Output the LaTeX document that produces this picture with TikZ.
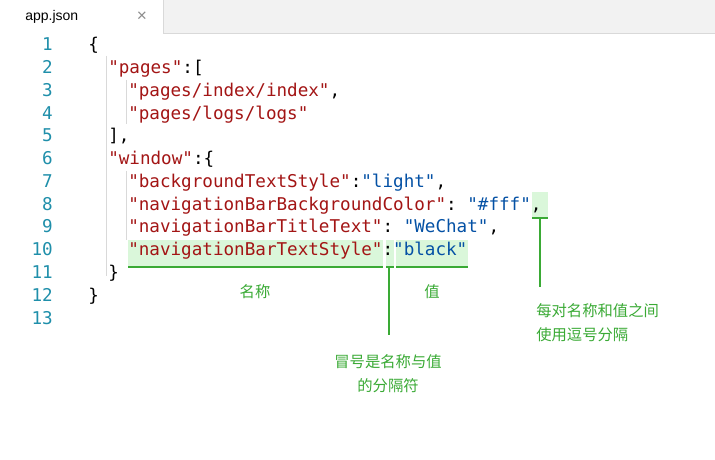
\documentclass[tikz,border=0pt]{standalone}
\usepackage{fontspec}
\setmainfont{Liberation Sans}
\setmonofont{DejaVu Sans Mono}
\newfontfamily\cjk{Noto Sans CJK SC}
\begin{document}
\begin{tikzpicture}[x=0.75pt,y=-0.75pt,
  code/.style={anchor=base west,inner sep=0pt,font=\ttfamily\fontsize{13.2pt}{15pt}\selectfont},
  lnum/.style={anchor=base east,inner sep=0pt,text=numc,font=\ttfamily\fontsize{13.2pt}{15pt}\selectfont},
  note/.style={inner sep=0pt,text=grn,font=\cjk\fontsize{11.5pt}{18pt}\selectfont,align=center},
  hl/.style={fill=hlc,draw=none},
  ul/.style={draw=grn,line width=2.2pt},
  lead/.style={draw=grn,line width=1.3pt},
  guide/.style={draw=black!15,line width=0.6pt}]
\definecolor{keyc}{HTML}{A31515}
\definecolor{valc}{HTML}{0451A5}
\definecolor{numc}{HTML}{1F8FAA}
\definecolor{grn}{HTML}{3AAA35}
\definecolor{hlc}{HTML}{DAF7DA}
\useasboundingbox (0,0) rectangle (715,460);
\fill[white] (0,0) rectangle (715,460);
% tab bar
\fill[black!5] (163,0) rectangle (715,33);
\draw[black!15] (163,0) -- (163,33) -- (715,33);
\node[anchor=west,inner sep=0pt,font=\fontsize{10.5pt}{12pt}\selectfont] (tab) at (25,17) {app.json};
\node[inner sep=0pt,text=black!45,font=\fontsize{13pt}{13pt}\selectfont] (x) at (142,17) {×};
% highlights
\fill[hl] (128,240) rectangle (383,268);
\fill[hl] (386,240) rectangle (394,268);
\fill[hl] (396,240) rectangle (468,268);
\fill[hl] (532,192) rectangle (548,218);
% guides
\draw[guide] (106,56) -- (106,276);
\draw[guide] (126,80) -- (126,124);
\draw[guide] (126,171) -- (126,240);
% line numbers
\foreach \i [evaluate=\i as \yy using 51+(\i-1)*22.75] in {1,...,13}
  \node[lnum] (n\i) at (53,\yy) {\i};
\def\Y#1{51+(#1-1)*22.75}
\node[code] (l1) at (88,{\Y1}) {\{};
\node[code] (l2) at (108,{\Y2}) {\textcolor{keyc}{"pages"}:[};
\node[code] (l3) at (128,{\Y3}) {\textcolor{keyc}{"pages/index/index"},};
\node[code] (l4) at (128,{\Y4}) {\textcolor{keyc}{"pages/logs/logs"}};
\node[code] (l5) at (108,{\Y5}) {],};
\node[code] (l6) at (108,{\Y6}) {\textcolor{keyc}{"window"}:\{};
\node[code] (l7) at (128,{\Y7}) {\textcolor{keyc}{"backgroundTextStyle"}:\textcolor{valc}{"light"},};
\node[code] (l8) at (128,{\Y8}) {\textcolor{keyc}{"navigationBarBackgroundColor"}: \textcolor{valc}{"\#fff"},};
\node[code] (l9) at (128,{\Y9}) {\textcolor{keyc}{"navigationBarTitleText"}: \textcolor{valc}{"WeChat"},};
\node[code] (l10) at (128,{\Y{10}}) {\textcolor{keyc}{"navigationBarTextStyle"}:\textcolor{valc}{"black"}};
\node[code] (l11) at (108,{\Y{11}}) {\}};
\node[code] (l12) at (88,{\Y{12}}) {\}};
% underlines
\draw[ul] (128,267) -- (383,267);
\draw[ul] (386,267) -- (394,267);
\draw[ul] (396,267) -- (468,267);
\draw[ul] (532,218) -- (548,218);
% labels
\node[note] (name) at (255,292) {名称};
\node[note] (val) at (432,292) {值};
\node[note] (colon) at (388,374) {冒号是名称与值\\的分隔符};
\node[note,align=left,anchor=west] (comma) at (536,323) {每对名称和值之间\\使用逗号分隔};
\coordinate (cu) at (389,268);
\coordinate (mu) at (540,219);
\draw[lead] (cu) -- (389,335);
\draw[lead] (mu) -- (540,287);
\end{tikzpicture}
\end{document}
